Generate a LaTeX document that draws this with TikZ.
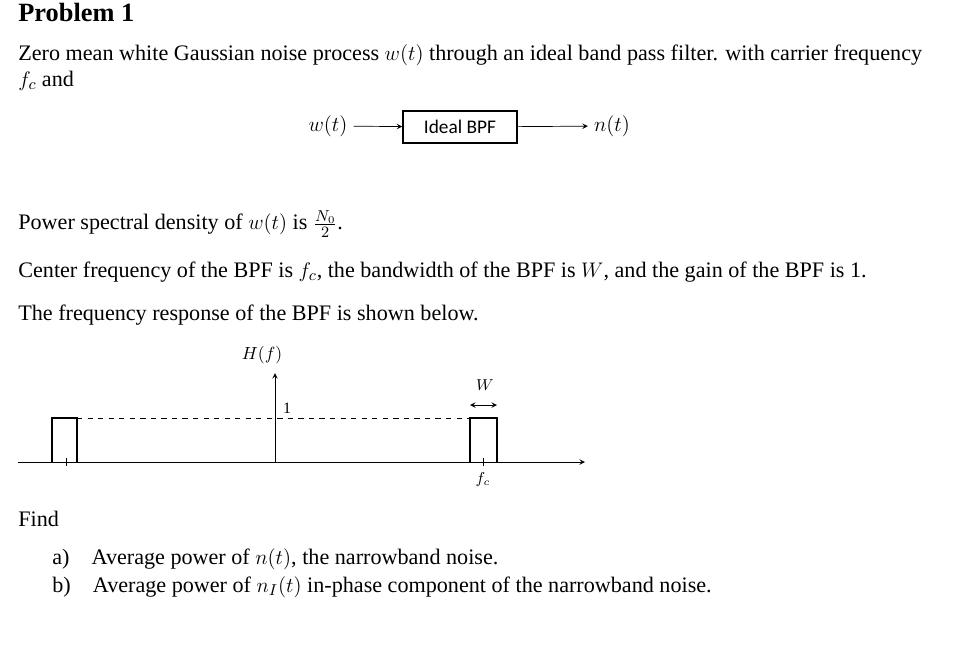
\documentclass[tikz,border=0pt]{standalone}
\usepackage{amsmath}
\usepackage{fontspec}
\setmainfont{Liberation Serif}
\newfontfamily\sansf{Carlito}
\usetikzlibrary{positioning}
\tikzset{
  txt/.style = {anchor=west, inner sep=0pt, font=\fontsize{12.6}{15}\selectfont},
  blk/.style = {draw, thick, minimum width=2.28cm, minimum height=0.64cm, font=\sansf\fontsize{11}{13}\selectfont},
  lab/.style = {font=\fontsize{12}{14}\selectfont},
  sig/.style = {->, >=stealth},
  pulse/.style = {very thick},
}
\begin{document}
\begin{tikzpicture}[x=0.02cm, y=-0.02cm]
        \useasboundingbox (0,0) rectangle (957,657);

        \node[txt, font=\bfseries\fontsize{15}{18}\selectfont] (title) at (18,12) {Problem 1};
        \node[txt] (l1) at (18,55) {Zero mean white Gaussian noise process $w(t)$ through an ideal band pass filter. with carrier frequency};
        \node[txt] (l2) at (18,81) {$f_c$ and};

        % block diagram
        \node[blk] (bpf) at (460,127) {Ideal BPF};
        \node[lab] (win) at (328,126) {$w(t)$};
        \node[lab] (nout) at (612,126) {$n(t)$};
        \draw[sig] (win) -- (bpf);
        \draw[sig] (bpf) -- (nout);

        \node[txt] (l3) at (18,224) {Power spectral density of $w(t)$ is $\frac{N_0}{2}$.};
        \node[txt] (l4) at (18,272) {Center frequency of the BPF is $f_c$, the bandwidth of the BPF is $W$, and the gain of the BPF is 1.};
        \node[txt] (l5) at (18,315) {The frequency response of the BPF is shown below.};

        % frequency response
        \coordinate (xl) at (18,462);
        \coordinate (xr) at (585,462);
        \coordinate (o) at (275,462);
        \coordinate (yt) at (275,373);
        \draw[sig] (xl) -- (xr);
        \draw[sig] (o) -- (yt);
        \node (hf) at (262,355) {$H(f)$};
        \node[font=\small] (one) at (287,408) {1};
        \draw[pulse] (52,462) -- (52,418) -- (77,418) -- (77,462);
        \draw[pulse] (470,462) -- (470,418) -- (497,418) -- (497,462);
        \draw[dashed] (77,418) -- (470,418);
        \draw (66,458) -- (66,466);
        \draw (483,458) -- (483,466);
        \draw[<->, >=stealth] (470,405) -- (497,405);
        \node[font=\small] (wl) at (485,385) {$W$};
        \node[font=\small] (fc) at (483,480) {$f_c$};

        \node[txt] (find) at (18,519) {Find};
        \node[txt] (qa) at (52,559) {a)\quad Average power of $n(t)$, the narrowband noise.};
        \node[txt] (qb) at (52,587) {b)\quad Average power of $n_I(t)$ in-phase component of the narrowband noise.};
\end{tikzpicture}
\end{document}
